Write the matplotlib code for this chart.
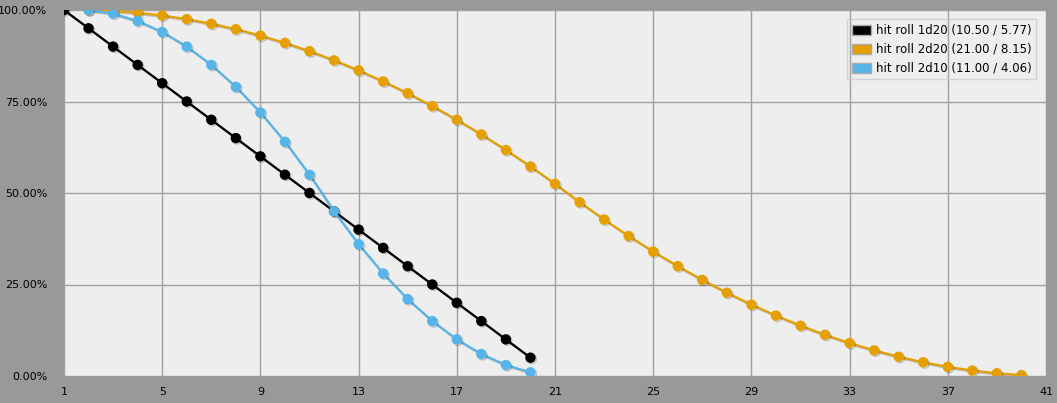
import matplotlib
matplotlib.use("Agg")
import matplotlib.pyplot as plt
from matplotlib.patches import Patch
from matplotlib.ticker import FuncFormatter
import matplotlib.patheffects as pe

x_1d20 = list(range(1, 21))
y_1d20 = [100, 95, 90, 85, 80, 75, 70, 65, 60, 55, 50, 45, 40, 35, 30, 25, 20, 15, 10, 5]

x_2d20 = list(range(2, 41))
y_2d20 = [100, 99.75, 99.25, 98.5, 97.5, 96.25, 94.75, 93, 91, 88.75, 86.25, 83.5, 80.5,
          77.25, 73.75, 70, 66, 61.75, 57.25, 52.5, 47.5, 42.75, 38.25, 34, 30, 26.25,
          22.75, 19.5, 16.5, 13.75, 11.25, 9, 7, 5.25, 3.75, 2.5, 1.5, 0.75, 0.25]

x_2d10 = list(range(2, 21))
y_2d10 = [100, 99, 97, 94, 90, 85, 79, 72, 64, 55, 45, 36, 28, 21, 15, 10, 6, 3, 1]

labels = ["hit roll 1d20 (10.50 / 5.77)", "hit roll 2d20 (21.00 / 8.15)", "hit roll 2d10 (11.00 / 4.06)"]
colors = ["#000000", "#e69f00", "#56b4e9"]

x_ticks = [1, 5, 9, 13, 17, 21, 25, 29, 33, 37, 41]
y_ticks = [0, 25, 50, 75, 100]

fig = plt.figure(figsize=(10.57, 4.03), dpi=100, facecolor="#999999")
ax = fig.add_axes([64/1057, 27/403, 982/1057, 366/403])
ax.set_facecolor("#eeeeee")

shadow = [pe.SimpleLineShadow(offset=(1, -1), alpha=0.2, shadow_color="black"), pe.Normal()]
for xs, ys, c in [(x_1d20, y_1d20, colors[0]), (x_2d20, y_2d20, colors[1]), (x_2d10, y_2d10, colors[2])]:
    ax.plot(xs, ys, color=c, lw=1.6, marker="o", ms=6.5, mec=c, zorder=3, path_effects=shadow)

ax.set_xlim(1, 41)
ax.set_ylim(0, 100)
ax.set_xticks(x_ticks)
ax.set_yticks(y_ticks)
ax.yaxis.set_major_formatter(FuncFormatter(lambda v, p: f"{v:.2f}%"))
ax.grid(True, color="#a0a0a0", lw=1)
ax.set_axisbelow(True)
for s in ax.spines.values():
    s.set_visible(False)
ax.tick_params(length=0, labelsize=8, colors="black")
ax.tick_params(axis="y", pad=12)
ax.tick_params(axis="x", pad=8)

handles = [Patch(facecolor=c, edgecolor="#aaaaaa", lw=1) for c in colors]
leg = ax.legend(handles, labels, loc="upper right", bbox_to_anchor=(0.99, 0.975), borderaxespad=0,
                fontsize=8.5, handlelength=1.6, handleheight=0.9, handletextpad=0.4,
                fancybox=False, frameon=True, borderpad=0.4, labelspacing=0.5)
leg.get_frame().set_facecolor("none")
leg.get_frame().set_edgecolor("#cccccc")

fig.savefig("out.png", dpi=100, facecolor=fig.get_facecolor())
